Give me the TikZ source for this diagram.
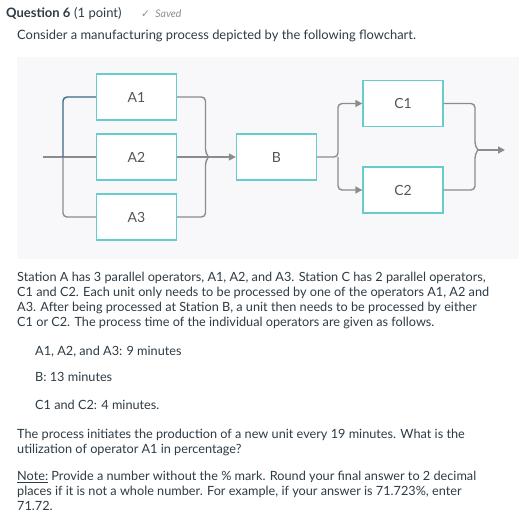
\documentclass[tikz,border=0pt]{standalone}
\usepackage{fontspec}
\setmainfont{Lato}
\newfontfamily\symfont{DejaVu Sans}
\usetikzlibrary{arrows.meta}

\definecolor{boxteal}{HTML}{66CCCC}
\definecolor{linegray}{HTML}{8C8C8C}
\definecolor{selblue}{HTML}{3D6A85}
\definecolor{labelgray}{HTML}{555555}
\definecolor{bodytext}{HTML}{2D3B45}
\definecolor{panelbg}{HTML}{F8F8FA}

\tikzset{
	station/.style={
		rectangle,
		draw=boxteal, line width=1.4pt,
		fill=white,
		minimum width=80pt,
		minimum height=46pt,
		inner sep=2pt,
		text=labelgray,
		font=\fontsize{14}{16}\selectfont,
		text centered,
	},
	flow/.style={draw=linegray, line width=1.4pt, rounded corners=4pt},
	tip/.style={-{Triangle[length=7pt,width=7pt]}},
	line/.style={anchor=base west, inner sep=0pt, text=bodytext,
		font=\fontsize{12.7}{15}\selectfont},
}

\begin{document}
\begin{tikzpicture}[x=1pt,y=-1pt]
	\useasboundingbox (0,0) rectangle (532,519);
	\fill[panelbg] (17,57) rectangle (519,259);
	
	% header
	\node[line, font=\fontsize{13}{15}\selectfont\bfseries](QN) at (6,17.5){Question 6};
	\node[line, font=\fontsize{13}{15}\selectfont](QP) at (QN.base east){\ (1 point)};
	\node[line, text=linegray, font=\fontsize{10.5}{12}\selectfont](CHK) at (141,17.5){{\symfont ✓}\ \ \itshape Saved};
	\node[line, font=\fontsize{12.9}{15}\selectfont](INTRO) at (17,40){Consider a manufacturing process depicted by the following flowchart.};
	
	% station A
	\node[station](A1) at (136.5,97){A1};
	\node[station, below of=A1, node distance=60pt](A2){A2};
	\node[station, below of=A2, node distance=60pt](A3){A3};
	
	% station B
	\node[station, right of=A2, node distance=140pt](B){B};
	
	% station C
	\node[station](C1) at (403,103.5){C1};
	\node[station, below of=C1, node distance=86.5pt](C2){C2};
	
	\coordinate (IN) at (42.5,157);
	\coordinate (SA) at (63,157);
	\coordinate (JA) at (208.5,157);
	\coordinate (JB) at (338,157);
	\coordinate (JC) at (478,150);
	\coordinate (OUT) at (505,150);
	
	\draw[flow] (IN) -- (A2.west);
	\draw[flow, draw=selblue] (A1.west) -| (SA);
	\draw[flow] (SA) |- (A3.west);
	
	\draw[flow] (A1.east) -| (205.5,153) -- (JA);
	\draw[flow] (A3.east) -| (205.5,161) -- (JA);
	\draw[flow, tip] (A2.east) -- (B.west);
	
	\draw[flow, tip] (B.east) -- (JB) |- (C1.west);
	\draw[flow, tip] (JB) |- (C2.west);
	
	\draw[flow] (C1.east) -| (475,146) -- (JC);
	\draw[flow] (C2.east) -| (475,154) -- (JC);
	\draw[flow, tip] (JC) -- (OUT);
	
	% question text
	\node[line](P1) at (17,281.7){Station A has 3 parallel operators, A1, A2, and A3. Station C has 2 parallel operators,};
	\node[line](P2) at (17,296.7){C1 and C2. Each unit only needs to be processed by one of the operators A1, A2 and};
	\node[line](P3) at (17,311.6){A3. After being processed at Station B, a unit then needs to be processed by either};
	\node[line](P4) at (17,326.5){C1 or C2. The process time of the individual operators are given as follows.};
	\node[line](T1) at (35,355){A1, A2, and A3: 9 minutes};
	\node[line](T2) at (35,381.7){B: 13 minutes};
	\node[line](T3) at (35,409){C1 and C2: 4 minutes.};
	\node[line](Q1) at (17,438.3){The process initiates the production of a new unit every 19 minutes. What is the};
	\node[line](Q2) at (17,453.3){utilization of operator A1 in percentage?};
	\node[line](N1) at (17,480.7){\underline{Note:} Provide a number without the \% mark. Round your final answer to 2 decimal};
	\node[line](N2) at (17,495.7){places if it is not a whole number. For example, if your answer is 71.723\%, enter};
	\node[line](N3) at (17,510.6){71.72.};
\end{tikzpicture}
\end{document}
